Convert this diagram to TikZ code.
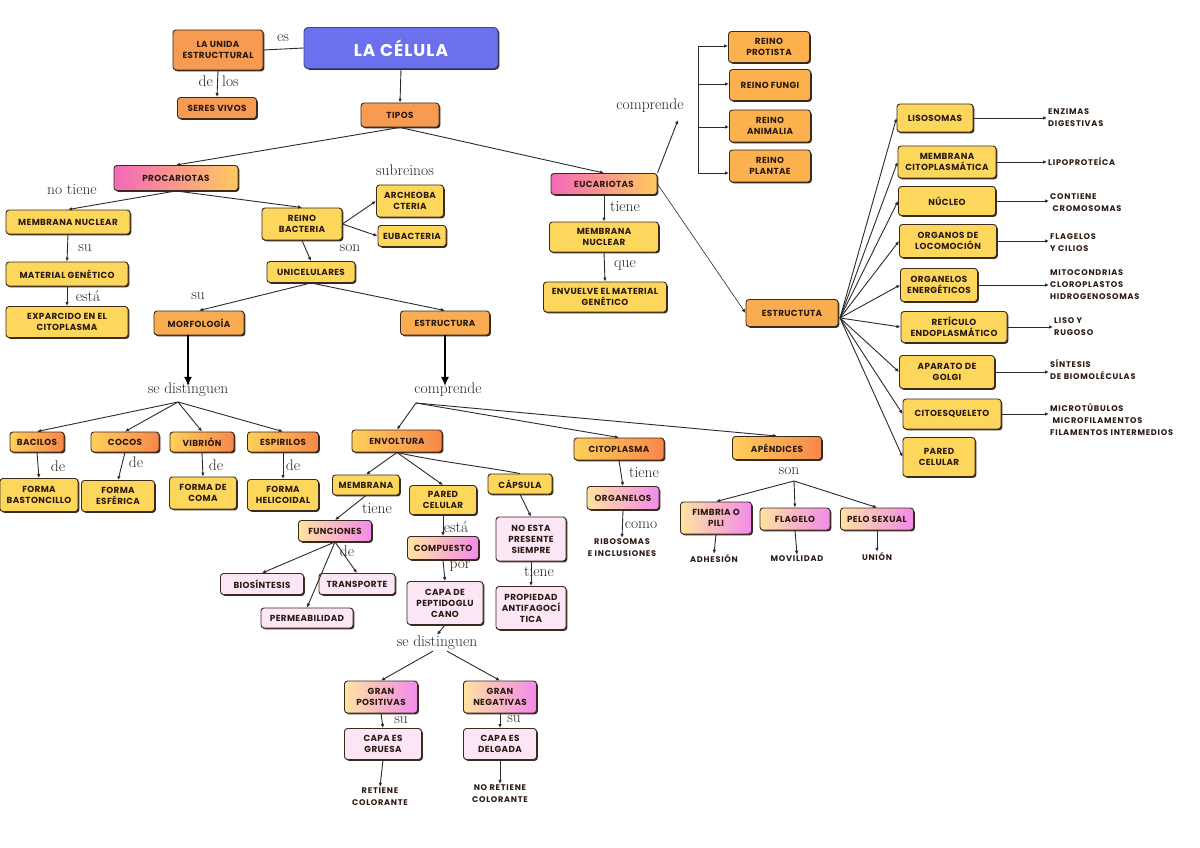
\documentclass[tikz,border=0pt]{standalone}
\usepackage{fontspec}
\newfontfamily\bxf{Poppins}[LetterSpace=4]
\newfontfamily\txf{Poppins}[LetterSpace=9]
\newfontfamily\celf{Poppins}[LetterSpace=6]
\usetikzlibrary{arrows.meta,shadows,calc}
\definecolor{boxline}{HTML}{3B2A1E}
\definecolor{linec}{HTML}{2B2B2B}
\definecolor{txtc}{HTML}{2B1A12}
\definecolor{labc}{HTML}{262626}
\definecolor{orgA}{HTML}{F79A52}
\definecolor{orgB}{HTML}{F9AC50}
\definecolor{orgR}{HTML}{FBB24E}
\definecolor{yel}{HTML}{FDD65C}
\definecolor{goL}{HTML}{FFCF5A}
\definecolor{goR}{HTML}{F7874A}
\definecolor{pyL}{HTML}{F468B8}
\definecolor{pyR}{HTML}{FFC95E}
\definecolor{ypL}{HTML}{FFE3A0}
\definecolor{ypR}{HTML}{F28BEA}
\definecolor{lp}{HTML}{FAE6F4}
\definecolor{cel}{HTML}{6B70EC}
\begin{document}
\begin{tikzpicture}[x=1pt,y=-1pt,
  sz/.style 2 args={minimum width=#1,minimum height=#2},
  bx/.style={draw=boxline, line width=0.9pt, rounded corners=3pt, align=center,
    inner sep=1pt, text=txtc, font=\bxf\bfseries\fontsize{8.8}{11}\selectfont,
    drop shadow={shadow xshift=1.3pt, shadow yshift=-1.3pt, fill=boxline, opacity=1}},
  obox/.style={bx, fill=orgA},
  obox2/.style={bx, fill=orgB},
  rbox/.style={bx, fill=orgR},
  ybox/.style={bx, fill=yel},
  gobox/.style={bx, left color=goL, right color=goR},
  pybox/.style={bx, left color=pyL, right color=pyR},
  yp/.style={bx, left color=ypL, right color=ypR},
  lpbox/.style={bx, fill=lp},
  lab/.style={font=\fontsize{15.5}{17}\selectfont, text=labc, inner sep=1pt},
  txt/.style={font=\txf\bfseries\fontsize{8.2}{12}\selectfont, text=txtc, align=center, inner sep=1pt},
  rtxt/.style={txt, anchor=west, align=left},
  ln/.style={line width=0.9pt, draw=linec},
  arr/.style={ln, -{Latex[length=4pt,width=3.5pt]}},
  big/.style={line width=1.2pt, draw=black, -{Latex[length=9pt,width=8pt]}},
  thin/.style={line width=0.6pt, draw=linec, -{Latex[length=4pt,width=3.5pt]}}
]
\useasboundingbox (0,0) rectangle (1200,848);
\fill[white] (0,0) rectangle (1200,848);

% ---------- top ----------
\node[obox, sz={90}{40}] (unida) at (218,50) {LA UNIDA\\ESTRUCTTURAL};
\node[bx, fill=cel, draw=cel!60!black, rounded corners=4pt, text=white,
      font=\celf\bfseries\fontsize{17}{19}\selectfont, sz={194}{41}] (cel) at (401,48) {LA CÉLULA};
\node[obox, sz={79}{21}] (seres) at (217,108) {SERES VIVOS};
\node[obox, sz={78}{24}] (tipos) at (400,115) {TIPOS};
\node[lab] (les) at (283,38) {es};
\node[lab, anchor=east] (lde) at (214,81) {de};
\node[lab, anchor=west] (llos) at (221,81) {los};
\draw[ln] (cel.west) -- (unida.east);
\draw[arr] (unida.south) -- (seres.north);
\draw[arr] (cel.south) -- (tipos.north);

% ---------- procariotas ----------
\node[pybox, sz={124}{25}] (proc) at (176,178) {PROCARIOTAS};
\node[ybox, sz={124}{24}] (memn) at (68,222) {MEMBRANA NUCLEAR};
\node[ybox, sz={122}{24}] (matg) at (67,274) {MATERIAL GENÉTICO};
\node[ybox, sz={122}{31}] (expa) at (67,322) {EXPARCIDO EN EL\\CITOPLASMA};
\node[ybox, sz={80}{32}] (rbac) at (302,224) {REINO\\BACTERIA};
\node[ybox, sz={67}{32}] (arch) at (410,201) {ARCHEOBA\\CTERIA};
\node[ybox, sz={68}{21}] (euba) at (412,236) {EUBACTERIA};
\node[ybox, sz={88}{21}] (unic) at (311,272) {UNICELULARES};
\node[obox2, sz={90}{24}] (morf) at (199,323) {MORFOLOGÍA};
\node[obox2, sz={89}{24}] (estr) at (445,323) {ESTRUCTURA};
\node[lab] (lnot) at (72,190) {no tiene};
\node[lab] (lsu1) at (85,248) {su};
\node[lab] (lest1) at (88,296) {está};
\node[lab] (lsub) at (405,170) {subreinos};
\node[lab] (lson1) at (350,248) {son};
\node[lab] (lsu2) at (198,296) {su};
\draw[arr] (tipos.south) -- (proc.north);
\draw[arr] (proc.south) -- (memn.north);
\draw[arr] (proc.south) -- (rbac.north);
\draw[arr] (memn.south) -- (matg.north);
\draw[arr] (matg.south) -- (expa.north);
\draw[arr] (rbac.east) -- (arch.west);
\draw[arr] (rbac.east) -- (euba.west);
\draw[arr] (rbac.south) -- (unic.north);
\draw[arr] (unic.south) -- (morf.north);
\draw[arr] (unic.south) -- (estr.north);

% ---------- morfologia ----------
\node[lab] (sd1) at (188,390) {se distinguen};
\node[lab] (cm1) at (448,390) {comprende};
\draw[big] (morf.south -| sd1) -- ([yshift=-4pt]sd1.north);
\draw[big] (estr.south) -- ([yshift=-4pt]estr.south |- cm1.north);
\node[gobox, sz={54}{20}] (baci) at (37,442) {BACILOS};
\node[gobox, sz={68}{20}] (coco) at (125,442) {COCOS};
\node[gobox, sz={64}{20}] (vibr) at (202,442) {VIBRIÓN};
\node[gobox, sz={71}{20}] (espi) at (283,442) {ESPIRILOS};
\node[ybox, sz={78}{33}] (fbas) at (39,495) {FORMA\\BASTONCILLO};
\node[ybox, sz={73}{31}] (fesf) at (118,496) {FORMA\\ESFÉRICA};
\node[ybox, sz={67}{32}] (fcom) at (203,493) {FORMA DE\\COMA};
\node[ybox, sz={71}{31}] (fhel) at (283,495) {FORMA\\HELICOIDAL};
\coordinate (sd1o) at (178,402);
\foreach \n in {baci,coco,vibr,espi} \draw[arr] (sd1o) -- (\n.north);
\draw[arr] (baci.south) -- (fbas.north);
\draw[arr] (coco.south) -- (fesf.north);
\draw[arr] (vibr.south) -- (fcom.north);
\draw[arr] (espi.south) -- (fhel.north);
\node[lab] at (58,466) {de};
\node[lab] at (136,462) {de};
\node[lab] at (216,465) {de};
\node[lab] at (293,465) {de};

% ---------- estructura ----------
\coordinate (cm1o) at (416,403);
\node[gobox, sz={90}{22}] (envo) at (397,441) {ENVOLTURA};
\node[gobox, sz={90}{22}] (cito) at (619,449) {CITOPLASMA};
\node[gobox, sz={89}{23}] (apen) at (777,448) {APÉNDICES};
\draw[arr] (cm1o) -- (envo.north);
\draw[arr] (cm1o) -- (cito.north);
\draw[arr] (cm1o) -- (apen.north);

\node[ybox, sz={67}{20}] (memb) at (366,485) {MEMBRANA};
\node[yp, sz={73}{21}] (func) at (335,531) {FUNCIONES};
\node[lpbox, sz={83}{21}] (bios) at (262,584) {BIOSÍNTESIS};
\node[lpbox, sz={76}{21}] (tran) at (357,584) {TRANSPORTE};
\node[lpbox, sz={92}{20}] (perm) at (307,618) {PERMEABILIDAD};
\node[ybox, sz={67}{29}] (pare) at (443,500) {PARED\\CELULAR};
\node[yp, sz={71}{23}] (comp) at (443,548) {COMPUESTO};
\node[lpbox, sz={76}{43}] (capa) at (445,603) {CAPA DE\\PEPTIDOGLU\\CANO};
\node[lab] (sd2) at (437,643) {se distinguen};
\node[ybox, sz={64}{20}] (caps) at (520,484) {CÁPSULA};
\node[lpbox, sz={70}{44}] (noes) at (531,539) {NO ESTA\\PRESENTE\\SIEMPRE};
\node[lpbox, sz={70}{43}] (prop) at (531,608) {PROPIEDAD\\ANTIFAGOCÍ\\TICA};
\node[yp, sz={73}{32}] (gpos) at (381,697) {GRAN\\POSITIVAS};
\node[lpbox, sz={77}{31}] (cgru) at (383,744) {CAPA ES\\GRUESA};
\node[txt] (ret) at (380,797) {RETIENE\\COLORANTE};
\node[yp, sz={73}{32}] (gneg) at (500,697) {GRAN\\NEGATIVAS};
\node[lpbox, sz={73}{31}] (cdel) at (500,744) {CAPA ES\\DELGADA};
\node[txt] (nret) at (500,794) {NO RETIENE\\COLORANTE};
\draw[arr] (envo.south) -- (memb.north);
\draw[arr] (envo.south) -- (pare.north);
\draw[ln] (envo.south) .. controls (440,462) and (480,466) .. (caps.north);
\draw[arr] (memb.south) -- (func.north);
\draw[arr] (func.south) -- (bios.north);
\draw[arr] (func.south) -- (tran.north);
\draw[arr] (func.south) -- (perm.north);
\draw[arr] (pare.south) -- (comp.north);
\draw[arr] (comp.south) -- (capa.north);
\draw[arr] (capa.south) -- (sd2.north);
\draw[arr] ([xshift=-4pt]sd2.south) -- (gpos.north);
\draw[arr] ([xshift=10pt]sd2.south) -- (gneg.north);
\draw[arr] (caps.south) -- (noes.north);
\draw[arr] (noes.south) -- (prop.north);
\draw[arr] (gpos.south) -- (cgru.north);
\draw[arr] (cgru.south) -- (ret.north);
\draw[arr] (gneg.south) -- (cdel.north);
\draw[arr] (cdel.south) -- (nret.north);
\node[lab] at (377,509) {tiene};
\node[lab] at (347,551) {de};
\node[lab] at (456,527) {está};
\node[lab] at (460,567) {por};
\node[lab] at (539,572) {tiene};
\node[lab] at (401,720) {su};
\node[lab] at (514,719) {su};

% ---------- citoplasma / apendices ----------
\node[yp, sz={72}{23}] (orga) at (623,498) {ORGANELOS};
\node[txt] (ribo) at (622,548) {RIBOSOMAS\\E INCLUSIONES};
\draw[arr] (cito.south) -- (orga.north);
\draw[arr] (orga.south) -- (ribo.north);
\node[lab] at (644,473) {tiene};
\node[lab] at (641,525) {como};
\node[lab] (son) at (789,471) {son};
\node[yp, sz={71}{32}] (fimb) at (716,518) {FIMBRIA O\\PILI};
\node[yp, sz={70}{22}] (flag) at (795,519) {FLAGELO};
\node[yp, sz={73}{22}] (pelo) at (877,519) {PELO SEXUAL};
\node[txt] (adhe) at (714,559) {ADHESIÓN};
\node[txt] (movi) at (797,559) {MOVILIDAD};
\node[txt] (unio) at (877,557) {UNIÓN};
\coordinate (sono) at (794,481);
\draw[arr] (sono) -- (fimb.north);
\draw[arr] (sono) -- (flag.north);
\draw[arr] (sono) -- (pelo.north);
\draw[arr] (fimb.south) -- (adhe.north);
\draw[arr] (flag.south) -- (movi.north);
\draw[arr] (pelo.south) -- (unio.north);

% ---------- eucariotas ----------
\node[pybox, sz={106}{21}] (euca) at (604,184) {EUCARIOTAS};
\node[ybox, sz={109}{30}] (memn2) at (604,237) {MEMBRANA\\NUCLEAR};
\node[ybox, sz={123}{30}] (envu) at (605,297) {ENVUELVE EL MATERIAL\\GENÉTICO};
\draw[arr] (tipos.south) -- (euca.north);
\draw[arr] (euca.south) -- (memn2.north);
\draw[arr] (memn2.south) -- (envu.north);
\node[lab] at (625,207) {tiene};
\node[lab] at (625,266) {que};
\node[lab] (cm2) at (650,106) {comprende};
\coordinate (cm2e) at (678,120);
\draw[arr] (euca.north east) -- (cm2e);
\node[rbox, sz={81}{31}] (rpro) at (769,47) {REINO\\PROTISTA};
\node[rbox, sz={81}{31}] (rfun) at (770,85) {REINO FUNGI};
\node[rbox, sz={81}{32}] (rani) at (770,126) {REINO\\ANIMALIA};
\node[rbox, sz={81}{32}] (rpla) at (770,166) {REINO\\PLANTAE};
\coordinate (b1) at (698,46);
\coordinate (b2) at (698,84);
\coordinate (b3) at (698,127);
\coordinate (b4) at (698,173);
\draw[ln] (b1) -- (b4);
\draw[arr] (b1) -- (b1 -| rpro.west);
\draw[arr] (b2) -- (b2 -| rfun.west);
\draw[arr] (b3) -- (b3 -| rani.west);
\draw[arr] (b4) -- (b4 -| rpla.west);

% ---------- estructuta ----------
\node[obox2, sz={92}{27}] (estu) at (792,313) {ESTRUCTUTA};
\draw[thin] (euca.east) -- (estu.west);
\node[ybox, sz={76}{28}] (liso) at (935,118) {LISOSOMAS};
\node[ybox, sz={98}{32}] (mcit) at (947,162) {MEMBRANA\\CITOPLASMÁTICA};
\node[ybox, sz={97}{29}] (nucl) at (947,201) {NÚCLEO};
\node[ybox, sz={97}{33}] (oloc) at (948,241) {ORGANOS DE\\LOCOMOCIÓN};
\node[ybox, sz={77}{33}] (oene) at (939,285) {ORGANELOS\\ENERGÉTICOS};
\node[ybox, sz={106}{31}] (reti) at (954,327) {RETÍCULO\\ENDOPLASMÁTICO};
\node[ybox, sz={95}{33}] (golg) at (947,372) {APARATO DE\\GOLGI};
\node[ybox, sz={98}{30}] (cesq) at (952,414) {CITOESQUELETO};
\node[ybox, sz={72}{39}] (parc) at (939,457) {PARED\\CELULAR};
\coordinate (eso) at (840,318);
\foreach \n in {liso,mcit,nucl,oloc,oene,reti,golg,cesq,parc} \draw[arr] (eso) -- (\n.west);

\node[rtxt] (t1) at (1047,118) {ENZIMAS\\DIGESTIVAS};
\node[rtxt] (t2) at (1047,162) {LIPOPROTEÍCA};
\node[rtxt] (t3) at (1049,203) {CONTIENE\\\ CROMOSOMAS};
\node[rtxt] (t4) at (1049,243) {FLAGELOS\\Y CILIOS};
\node[rtxt] (t5) at (1049,285) {MITOCONDRIAS\\CLOROPLASTOS\\HIDROGENOSOMAS};
\node[rtxt] (t6) at (1053,327) {LISO Y\\RUGOSO};
\node[rtxt] (t7) at (1049,370) {SÍNTESIS\\DE BIOMOLÉCULAS};
\node[rtxt] (t8) at (1049,420) {MICROTÚBULOS\\\ MICROFILAMENTOS\\FILAMENTOS INTERMEDIOS};
\draw[arr] (liso.east) -- (liso.east -| t1.west);
\draw[arr] (mcit.east) -- (mcit.east -| t2.west);
\draw[arr] (nucl.east) -- (nucl.east -| t3.west);
\draw[arr] (oloc.east) -- (oloc.east -| t4.west);
\draw[arr] (oene.east) -- (oene.east -| t5.west);
\draw[arr] (reti.east) -- (reti.east -| t6.west);
\draw[arr] (golg.east) -- (golg.east -| t7.west);
\draw[arr] (cesq.east) -- (cesq.east -| t8.west);
\end{tikzpicture}
\end{document}
